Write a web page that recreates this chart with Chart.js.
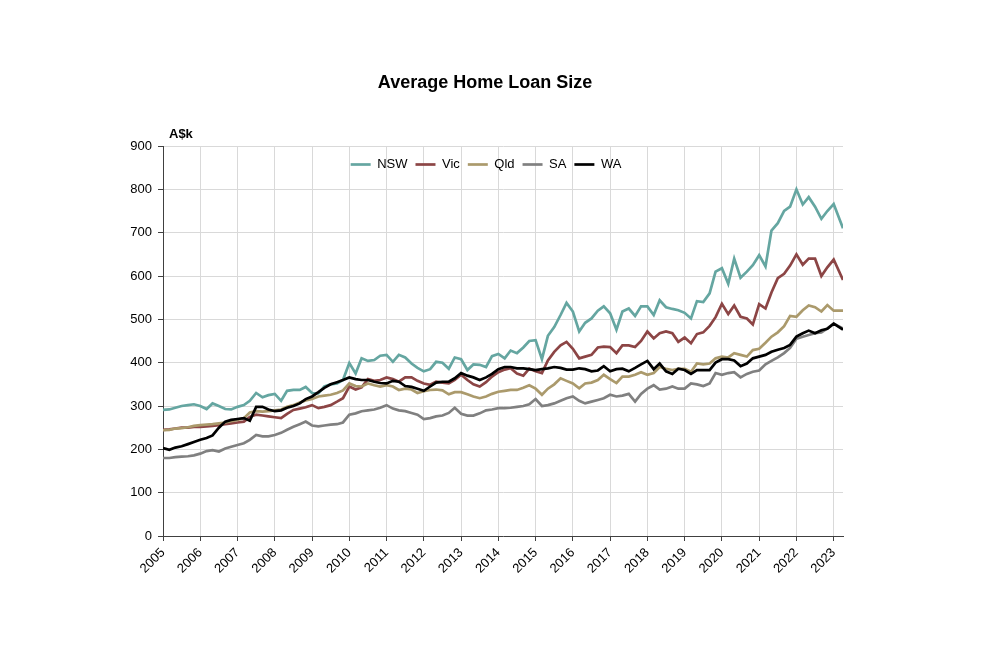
<!DOCTYPE html>
<html>
<head>
<meta charset="utf-8">
<title>Average Home Loan Size</title>
<script src="https://cdn.jsdelivr.net/npm/chart.js@4.4.1/dist/chart.umd.min.js"></script>
<style>
    html, body { margin: 0; padding: 0; background: #fff; }
    #wrap { width: 1000px; height: 670px; }
</style>
</head>
<body>
<div id="wrap"><canvas id="loanChart" width="1000" height="670"></canvas></div>
<script>
// Chart text
const chartTitle = 'Average Home Loan Size';
const unitLabel = 'A$k';

// Dates as decimal years (every two months, last point March 2023)
const dates = [
    2005.00, 2005.17, 2005.33, 2005.50, 2005.67, 2005.83,
    2006.00, 2006.17, 2006.33, 2006.50, 2006.67, 2006.83,
    2007.00, 2007.17, 2007.33, 2007.50, 2007.67, 2007.83,
    2008.00, 2008.17, 2008.33, 2008.50, 2008.67, 2008.83,
    2009.00, 2009.17, 2009.33, 2009.50, 2009.67, 2009.83,
    2010.00, 2010.17, 2010.33, 2010.50, 2010.67, 2010.83,
    2011.00, 2011.17, 2011.33, 2011.50, 2011.67, 2011.83,
    2012.00, 2012.17, 2012.33, 2012.50, 2012.67, 2012.83,
    2013.00, 2013.17, 2013.33, 2013.50, 2013.67, 2013.83,
    2014.00, 2014.17, 2014.33, 2014.50, 2014.67, 2014.83,
    2015.00, 2015.17, 2015.33, 2015.50, 2015.67, 2015.83,
    2016.00, 2016.17, 2016.33, 2016.50, 2016.67, 2016.83,
    2017.00, 2017.17, 2017.33, 2017.50, 2017.67, 2017.83,
    2018.00, 2018.17, 2018.33, 2018.50, 2018.67, 2018.83,
    2019.00, 2019.17, 2019.33, 2019.50, 2019.67, 2019.83,
    2020.00, 2020.17, 2020.33, 2020.50, 2020.67, 2020.83,
    2021.00, 2021.17, 2021.33, 2021.50, 2021.67, 2021.83,
    2022.00, 2022.17, 2022.33, 2022.50, 2022.67, 2022.83,
    2023.00, 2023.25
];

const nsw = [
    291, 292, 296, 300, 302, 304,
    300, 293, 306, 300, 293, 292,
    298, 302, 312, 330, 320, 325,
    328, 312, 335, 337, 337, 344,
    330, 329, 345, 350, 352, 360,
    399, 375, 410, 404, 406, 416,
    418, 402, 418, 412, 398, 388,
    380, 385, 402, 400, 386, 412,
    408, 383, 396, 395, 390, 415,
    420, 410, 428, 422, 435, 450,
    452, 408, 462, 482, 510, 538,
    518, 472, 492, 502, 520, 530,
    514, 476, 518, 525, 508, 530,
    530, 510, 544, 528, 524, 521,
    515, 502, 542, 540, 560, 610,
    618, 582, 640, 596, 610, 625,
    648, 622, 705, 722, 750, 760,
    800, 765, 782, 760, 732, 750,
    766, 710
];

const vic = [
    245, 246, 248, 250, 250, 252,
    252, 253, 254, 256, 258, 260,
    262, 264, 275, 280, 278, 276,
    274, 272, 282, 291, 294, 297,
    302, 295, 298, 302, 310, 318,
    345, 338, 343, 362, 358, 360,
    366, 362, 356, 366, 366, 358,
    352, 349, 356, 354, 352, 360,
    372, 360, 350, 345, 355, 368,
    378, 384, 387, 375, 370, 386,
    380, 376, 405, 425, 440, 448,
    432, 410, 414, 418, 435, 437,
    436, 422, 440, 440, 436, 450,
    472, 456, 468, 472, 468, 448,
    458, 445, 466, 470, 485, 505,
    536, 512, 532, 506, 502, 488,
    535, 525, 562, 595, 605, 624,
    650, 626, 640, 640, 600, 620,
    638, 591
];

const qld = [
    244, 245, 248, 249, 251, 254,
    256, 257, 258, 260, 262, 265,
    268, 272, 285, 288, 287, 288,
    290, 292, 298, 302, 308, 313,
    316, 322, 324, 326, 330, 336,
    352, 346, 345, 352, 348, 345,
    348, 345, 337, 340, 338, 330,
    334, 337, 338, 336, 327, 332,
    332, 327, 322, 318, 322, 328,
    333, 335, 337, 337, 342, 348,
    340, 326, 340, 350, 364, 358,
    352, 341, 352, 354, 360, 372,
    362, 353, 368, 368, 372, 378,
    372, 376, 390, 386, 383, 386,
    386, 379, 398, 396, 398, 410,
    414, 412, 422, 418, 414, 429,
    432, 446, 460, 470, 484, 508,
    506, 521, 532, 528, 518, 533,
    520, 520
];

const sa = [
    180, 180, 182, 183, 184, 186,
    190, 196, 198, 195, 202, 206,
    210, 214, 222, 233, 230, 230,
    233, 238, 245, 252, 258, 264,
    255, 253, 255, 257, 258, 262,
    280, 283, 288, 290, 292, 296,
    302, 294, 290, 288, 284, 280,
    270, 272, 276, 278, 284, 296,
    282, 278, 278, 283, 290, 292,
    295, 295, 296, 298, 300, 304,
    316, 300, 302, 306, 312, 318,
    322, 312, 306, 310, 314, 318,
    326, 322, 324, 328, 310, 328,
    340, 348, 338, 340, 345, 340,
    340, 352, 350, 346, 352, 376,
    372, 376, 378, 366, 374, 379,
    382, 396, 404, 412, 422, 434,
    455, 460, 464, 468, 470, 479,
    490, 479
];

const wa = [
    203, 199, 204, 207, 212, 217,
    222, 226, 232, 250, 264, 268,
    270, 272, 266, 298, 298, 292,
    288, 290, 296, 300, 306, 316,
    322, 332, 342, 350, 355, 360,
    366, 362, 360, 360, 356, 353,
    352, 358, 356, 346, 344, 340,
    335, 345, 354, 356, 356, 364,
    376, 370, 366, 360, 366, 374,
    385, 390, 390, 387, 387, 385,
    383, 385, 387, 390, 388, 384,
    384, 387, 385, 380, 382, 392,
    380, 385, 386, 380, 388, 396,
    404, 385, 398, 380, 374, 386,
    383, 374, 383, 383, 383, 400,
    408, 408, 405, 392, 398, 410,
    414, 418, 425, 430, 434, 441,
    460, 468, 474, 468, 475, 478,
    490, 476
];

// Tick labels
const xTickYears = [2005, 2006, 2007, 2008, 2009, 2010, 2011, 2012, 2013, 2014,
    2015, 2016, 2017, 2018, 2019, 2020, 2021, 2022, 2023];
const yTickValues = [0, 100, 200, 300, 400, 500, 600, 700, 800, 900];

const fontFamily = '"Liberation Sans", Arial, Helvetica, sans-serif';
const gridColor = '#d9d9d9';
const axisColor = '#404040';

function toPoints(values) {
    return values.map((v, i) => ({ x: dates[i], y: v }));
}

function makeSeries(label, values, color, order) {
    return {
        label: label,
        data: toPoints(values),
        borderColor: color,
        backgroundColor: color,
        borderWidth: 2.7,
        pointRadius: 0,
        tension: 0,
        order: order
    };
}

// Title and unit label drawn at fixed spots
const headerText = {
    id: 'headerText',
    afterDraw(chart) {
        const ctx = chart.ctx;
        ctx.save();
        ctx.fillStyle = '#000';
        ctx.font = 'bold 18px ' + fontFamily;
        ctx.textAlign = 'center';
        ctx.textBaseline = 'middle';
        ctx.fillText(chartTitle, 485, 83);
        ctx.font = 'bold 13px ' + fontFamily;
        ctx.textAlign = 'left';
        ctx.fillText(unitLabel, 169, 134);
        ctx.restore();
    }
};

// Legend sits as one row inside the top of the plot, a bit left of centre
const legendInPlot = {
    id: 'legendInPlot',
    beforeUpdate(chart) {
        if (chart.legend) {
            chart.legend.isHorizontal = () => true;
        }
    },
    afterUpdate(chart) {
        const lg = chart.legend;
        const ca = chart.chartArea;
        if (lg && ca) {
            lg.left = ca.left - 17;
            lg.right = ca.right - 17;
            lg.top = ca.top + 4;
            lg.bottom = lg.top + lg.height;
        }
    }
};

new Chart(document.getElementById('loanChart'), {
    type: 'line',
    data: {
        datasets: [
            makeSeries('NSW', nsw, '#65a6a1', 5),
            makeSeries('Vic', vic, '#8c4545', 4),
            makeSeries('Qld', qld, '#ab9a6c', 3),
            makeSeries('SA', sa, '#808080', 2),
            makeSeries('WA', wa, '#000000', 1)
        ]
    },
    options: {
        responsive: false,
        animation: false,
        layout: {
            padding: { left: 103, right: 157, top: 146, bottom: 74 }
        },
        plugins: {
            title: { display: false },
            tooltip: { enabled: false },
            legend: {
                position: 'chartArea',
                align: 'center',
                labels: {
                    usePointStyle: true,
                    pointStyle: 'line',
                    pointStyleWidth: 20,
                    padding: 8,
                    color: '#000',
                    font: { family: fontFamily, size: 13 },
                    sort: (a, b) => a.datasetIndex - b.datasetIndex
                }
            }
        },
        scales: {
            x: {
                type: 'linear',
                min: dates[0],
                max: dates[dates.length - 1],
                afterBuildTicks: scale => {
                    scale.ticks = xTickYears.map(v => ({ value: v }));
                },
                afterFit: scale => {
                    scale.height = 60;
                    scale.paddingLeft = 0;
                    scale.paddingRight = 0;
                },
                ticks: {
                    autoSkip: false,
                    minRotation: 45,
                    maxRotation: 45,
                    padding: 4,
                    color: '#000',
                    font: { family: fontFamily, size: 13 },
                    callback: v => String(v)
                },
                grid: { color: gridColor, tickColor: axisColor, tickLength: 5 },
                border: { color: axisColor, width: 1 }
            },
            y: {
                min: 0,
                max: 900,
                afterBuildTicks: scale => {
                    scale.ticks = yTickValues.map(v => ({ value: v }));
                },
                afterFit: scale => {
                    scale.width = 60;
                    scale.paddingTop = 0;
                    scale.paddingBottom = 0;
                },
                ticks: {
                    padding: 6,
                    color: '#000',
                    font: { family: fontFamily, size: 13 },
                    callback: v => String(v)
                },
                grid: { color: gridColor, tickColor: axisColor, tickLength: 5 },
                border: { color: axisColor, width: 1 }
            }
        }
    },
    plugins: [headerText, legendInPlot]
});
</script>
</body>
</html>
